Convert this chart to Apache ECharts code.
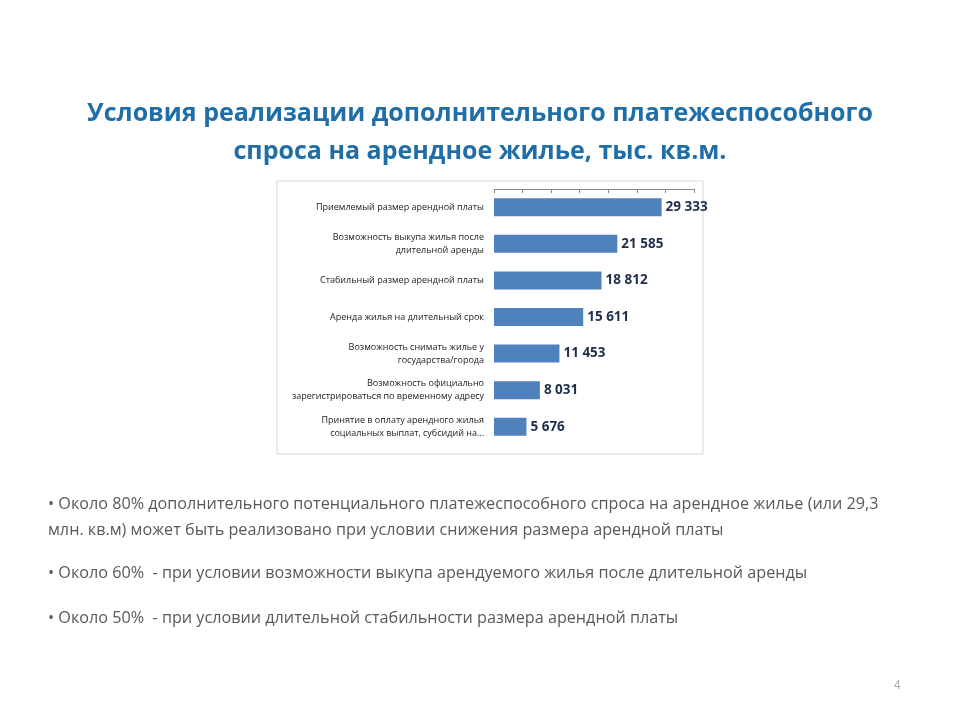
<!DOCTYPE html>
<html>
<head>
<meta charset="utf-8">
<script src="https://cdn.jsdelivr.net/npm/echarts@6/dist/echarts.min.js"></script>
<style>body{margin:0;background:#fff}#divChart{width:960px;height:720px}</style>
</head>
<body>
<div id="divChart"></div>
<script>
var categories = [
    'Приемлемый размер арендной платы',
    'Возможность выкупа жилья после\nдлительной аренды',
    'Стабильный размер арендной платы',
    'Аренда жилья на длительный срок',
    'Возможность снимать жилье у\nгосударства/города',
    'Возможность официально\nзарегистрироваться по временному адресу',
    'Принятие в оплату арендного жилья\nсоциальных выплат, субсидий на...'
];
var values = [29333, 21585, 18812, 15611, 11453, 8031, 5676];

var bullets = [
    '• Около 80% дополнительного потенциального платежеспособного спроса на арендное жилье (или 29,3\nмлн. кв.м) может быть реализовано при условии снижения размера арендной платы',
    '• Около 60%  - при условии возможности выкупа арендуемого жилья после длительной аренды',
    '• Около 50%  - при условии длительной стабильности размера арендной платы'
];
var bulletTops = [491, 560, 605];

function fmt(v) {
    return String(v).replace(/\B(?=(\d{3})+(?!\d))/g, ' ');
}

var myChart = echarts.init(document.getElementById('divChart'));

var graphics = [{
    type: 'rect',
    shape: { x: 277, y: 181, width: 426, height: 273 },
    style: { fill: 'none', stroke: '#d9d9d9', lineWidth: 1 },
    z: -1
}];
for (var i = 0; i < bullets.length; i++) {
    graphics.push({
        type: 'text', left: 48, top: bulletTops[i],
        style: { text: bullets[i], fill: '#595959', font: '16.2px "Open Sans", sans-serif', lineHeight: 26 }
    });
}
graphics.push({
    type: 'text', left: 894, top: 680,
    style: { text: '4', fill: '#aaaaaa', font: '12px sans-serif' }
});

var option = {
    backgroundColor: '#fff',
    title: {
        text: 'Условия реализации дополнительного платежеспособного\nспроса на арендное жилье, тыс. кв.м.',
        left: 'center',
        top: 90,
        textStyle: { fontSize: 25, fontWeight: 'bold', color: '#1f6ea8', lineHeight: 38, fontFamily: '"Open Sans", sans-serif' }
    },
    grid: { left: 494, right: 266, top: 189, bottom: 275, containLabel: false },
    xAxis: {
        type: 'value', position: 'top', min: 0, max: 35000, interval: 5000,
        axisLine: { show: true, lineStyle: { color: '#888' } },
        axisTick: { show: true, inside: true, length: 4, lineStyle: { color: '#888' } },
        axisLabel: { show: false },
        splitLine: { show: false }
    },
    yAxis: {
        type: 'category', inverse: true, data: categories,
        axisLine: { show: false }, axisTick: { show: false },
        axisLabel: { fontSize: 9, color: '#222', lineHeight: 13, margin: 10, fontFamily: '"Open Sans", sans-serif' }
    },
    series: [{
        type: 'bar', data: values, barWidth: 18,
        itemStyle: { color: '#4f81bd' },
        label: {
            show: true, position: 'right', distance: 4,
            formatter: function (p) { return fmt(p.value); },
            fontSize: 13.5, fontWeight: 'bold', color: '#1f2d4d', fontFamily: '"Open Sans", sans-serif'
        }
    }],
    graphic: graphics
};
myChart.setOption(option);
</script>
</body>
</html>
